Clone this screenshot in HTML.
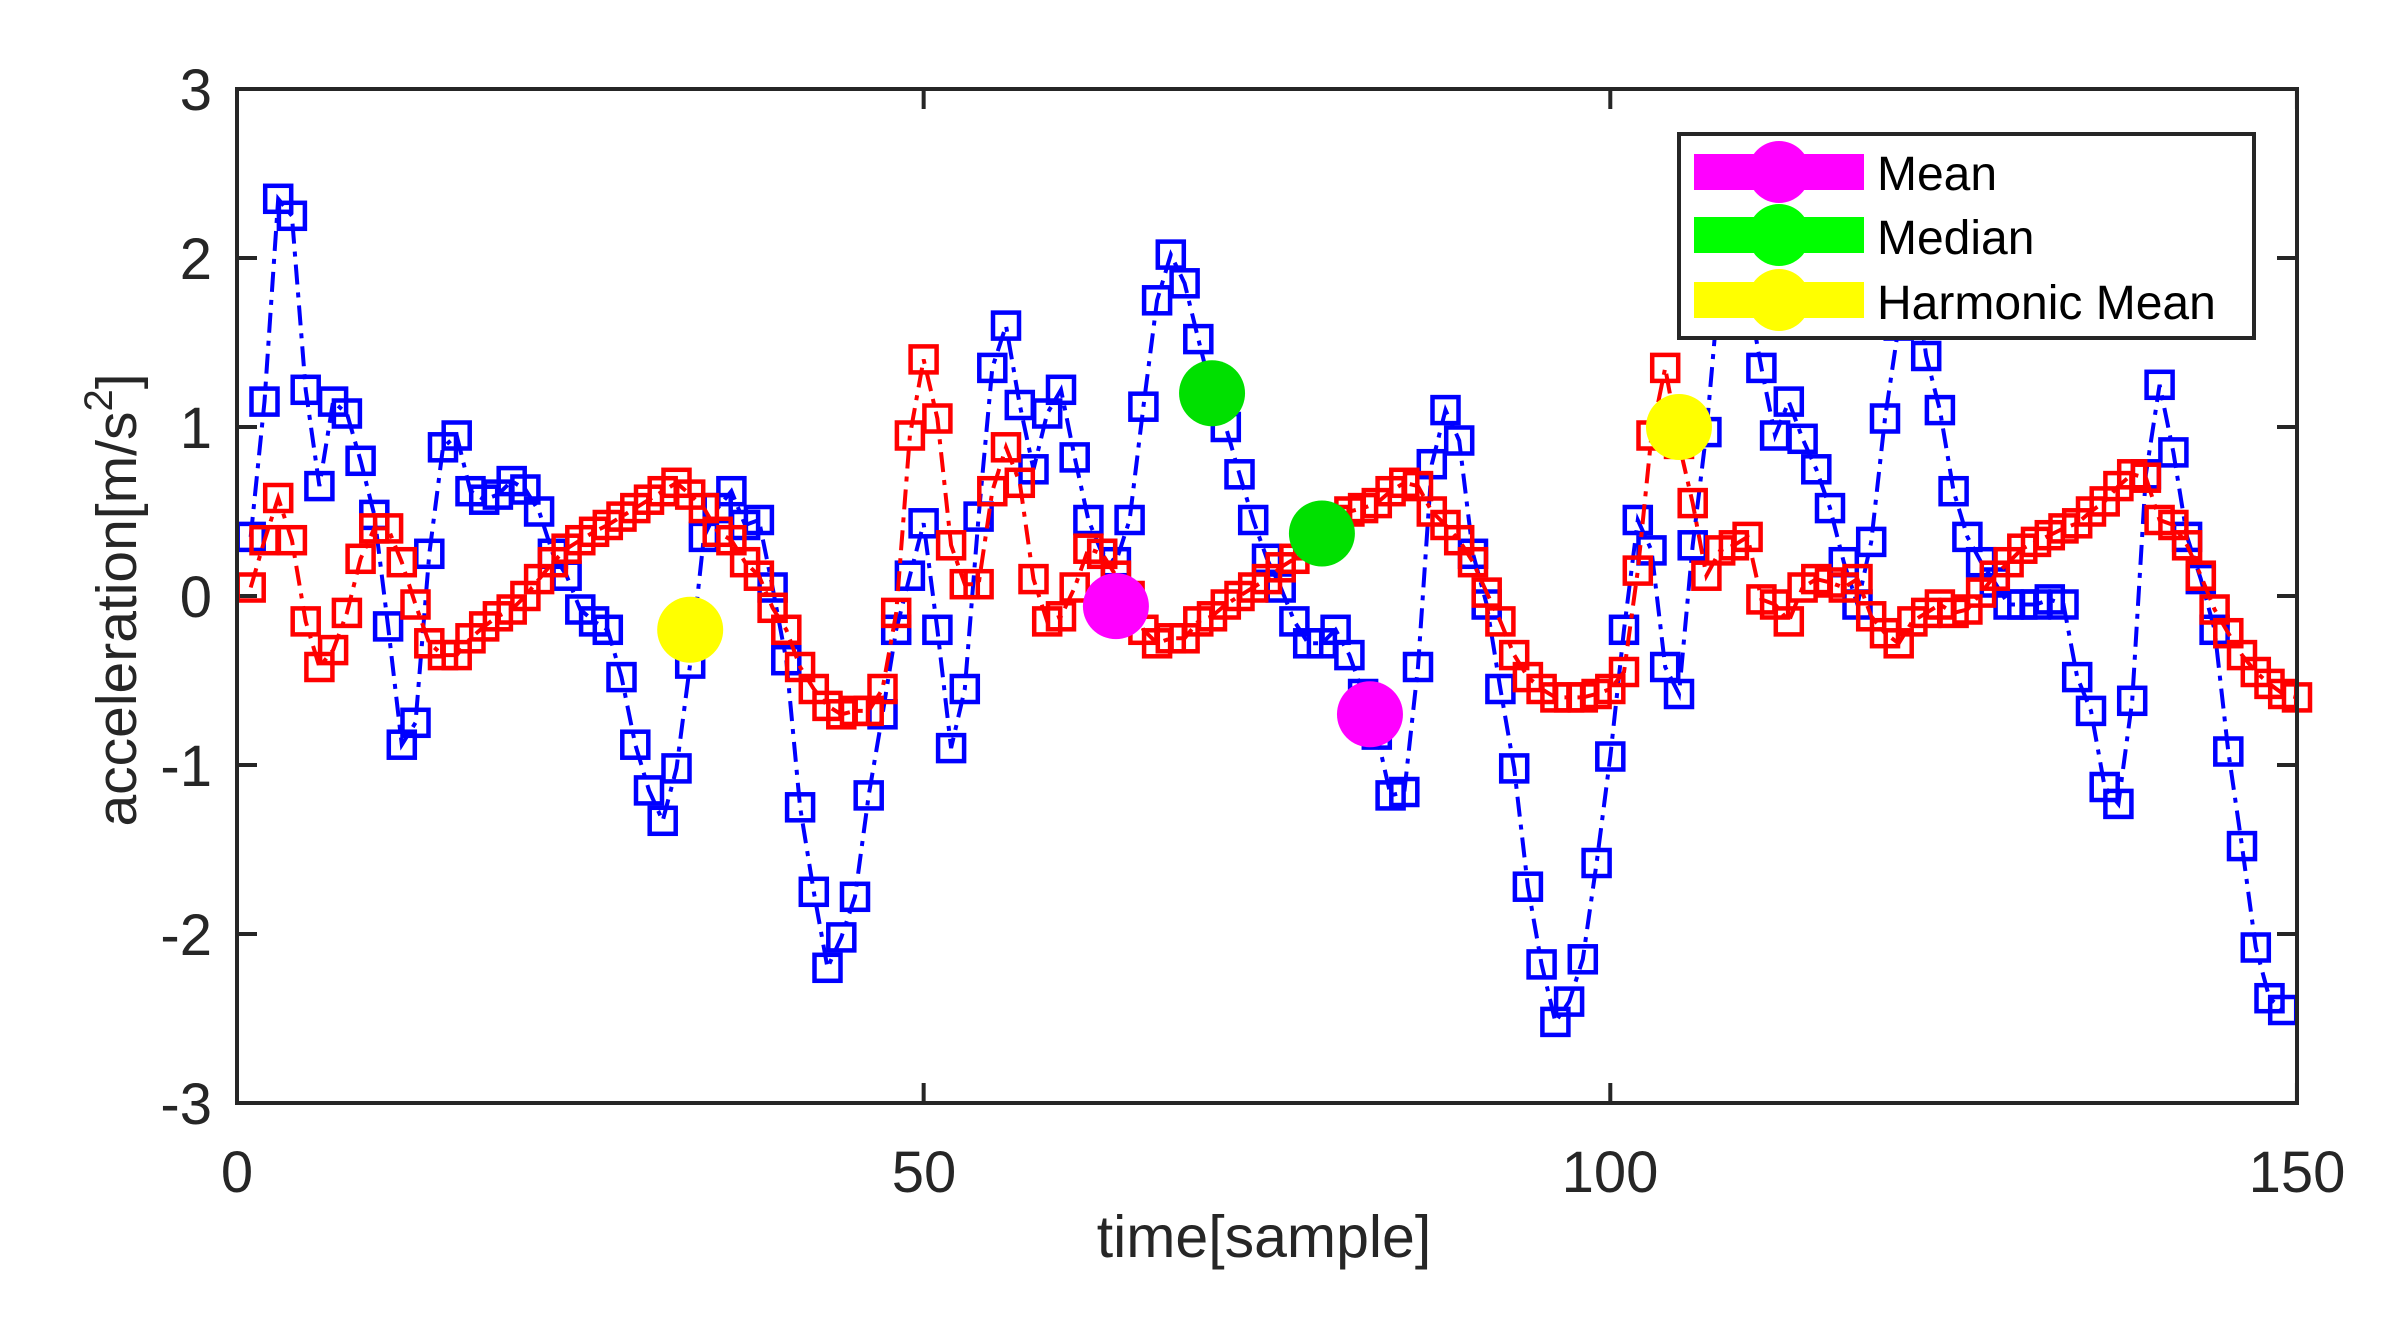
<!DOCTYPE html>
<html><head><meta charset="utf-8"><style>
html,body{margin:0;padding:0;background:#fff;}
svg{display:block;}
text{font-family:"Liberation Sans",Arial,sans-serif;fill:#262626;}
</style></head><body>
<svg id="s" width="2387" height="1323" viewBox="0 0 2387 1323" xmlns="http://www.w3.org/2000/svg">
<rect x="0" y="0" width="2387" height="1323" fill="#fff"/>
<g id="plot"></g>
<g id="axes" stroke="#262626" stroke-width="4" fill="none">
<rect x="237" y="89" width="2060" height="1014"/>
</g>
<g font-size="58" text-anchor="end">
<text x="212" y="110">3</text>
<text x="212" y="279">2</text>
<text x="212" y="448">1</text>
<text x="212" y="617">0</text>
<text x="212" y="786">-1</text>
<text x="212" y="955">-2</text>
<text x="212" y="1124">-3</text>
</g>
<g font-size="58" text-anchor="middle">
<text x="237" y="1192">0</text>
<text x="924" y="1192">50</text>
<text x="1610" y="1192">100</text>
<text x="2297" y="1192">150</text>
<text x="1264" y="1257" font-size="59">time[sample]</text>
</g>
<text font-size="57" text-anchor="middle" transform="translate(136,600) rotate(-90)">acceleration[m/s<tspan font-size="40" dy="-24">2</tspan><tspan dy="24">]</tspan></text>
<g>
<rect x="1679" y="134" width="575" height="204" fill="#fff" stroke="#262626" stroke-width="4"/>
<rect x="1694" y="154" width="170" height="36" fill="#ff00ff"/><circle cx="1779" cy="172" r="31" fill="#ff00ff"/>
<rect x="1694" y="217" width="170" height="36" fill="#00ff00"/><circle cx="1779" cy="235" r="31" fill="#00ff00"/>
<rect x="1694" y="282" width="170" height="36" fill="#ffff00"/><circle cx="1779" cy="300" r="31" fill="#ffff00"/>
<text x="1877" y="190" font-size="48" style="fill:#000">Mean</text>
<text x="1877" y="254" font-size="48" style="fill:#000">Median</text>
<text x="1877" y="319" font-size="48" style="fill:#000">Harmonic Mean</text>
</g>
</svg>
<script>
var blue=[0.35,1.15,2.35,2.25,1.22,0.65,1.15,1.08,0.8,0.48,-0.18,-0.88,-0.75,0.25,0.88,0.95,0.62,0.57,0.6,0.68,0.63,0.5,0.25,0.12,-0.08,-0.15,-0.2,-0.48,-0.88,-1.15,-1.33,-1.02,-0.4,0.35,0.52,0.62,0.42,0.45,0.05,-0.38,-1.25,-1.75,-2.2,-2.02,-1.78,-1.18,-0.7,-0.2,0.12,0.43,-0.2,-0.9,-0.55,0.47,1.35,1.6,1.13,0.75,1.08,1.22,0.82,0.45,0.25,0.2,0.45,1.12,1.75,2.02,1.85,1.52,1.2,1.0,0.72,0.45,0.22,0.05,-0.15,-0.28,-0.28,-0.2,-0.35,-0.58,-0.82,-1.18,-1.16,-0.42,0.78,1.1,0.92,0.25,-0.05,-0.55,-1.02,-1.72,-2.18,-2.52,-2.4,-2.15,-1.58,-0.95,-0.2,0.45,0.27,-0.42,-0.58,0.3,0.97,1.9,2.3,1.8,1.35,0.95,1.15,0.93,0.75,0.52,0.2,-0.05,0.32,1.05,1.6,2.0,1.42,1.1,0.62,0.35,0.2,0.08,-0.05,-0.05,-0.05,-0.02,-0.05,-0.48,-0.68,-1.13,-1.23,-0.62,0.72,1.25,0.85,0.35,0.1,-0.2,-0.92,-1.48,-2.08,-2.38,-2.45];
var red=[0.05,0.33,0.58,0.33,-0.15,-0.42,-0.32,-0.1,0.22,0.4,0.4,0.2,-0.05,-0.28,-0.35,-0.35,-0.25,-0.18,-0.12,-0.08,0.0,0.1,0.2,0.28,0.33,0.38,0.42,0.47,0.52,0.57,0.62,0.67,0.6,0.52,0.38,0.33,0.2,0.12,-0.07,-0.2,-0.42,-0.55,-0.65,-0.7,-0.68,-0.68,-0.55,-0.1,0.95,1.4,1.05,0.3,0.07,0.07,0.62,0.88,0.67,0.1,-0.15,-0.12,0.05,0.28,0.25,0.12,0.0,-0.2,-0.28,-0.25,-0.25,-0.15,-0.12,-0.05,0.0,0.05,0.1,0.17,0.22,0.3,0.38,0.45,0.5,0.52,0.55,0.62,0.67,0.65,0.5,0.42,0.33,0.2,0.02,-0.15,-0.35,-0.48,-0.55,-0.6,-0.6,-0.6,-0.58,-0.55,-0.45,0.15,0.95,1.35,0.9,0.55,0.12,0.27,0.3,0.35,-0.02,-0.05,-0.15,0.05,0.1,0.08,0.05,0.1,-0.12,-0.22,-0.28,-0.15,-0.1,-0.05,-0.1,-0.08,0.02,0.12,0.2,0.28,0.32,0.36,0.4,0.43,0.5,0.56,0.65,0.72,0.7,0.45,0.42,0.3,0.12,-0.08,-0.22,-0.35,-0.45,-0.52,-0.58,-0.6];
function X(t){return 237+t*13.733;}function Y(v){return 596-v*169;}
var g=document.getElementById('plot'),h='';
var tk='';
[0,50,100,150].forEach(function(t){var x=X(t);tk+='<line x1="'+x+'" y1="1103" x2="'+x+'" y2="1083"/><line x1="'+x+'" y1="89" x2="'+x+'" y2="109"/>';});
[-3,-2,-1,0,1,2,3].forEach(function(v){var y=Y(v);tk+='<line x1="237" y1="'+y+'" x2="257" y2="'+y+'"/><line x1="2297" y1="'+y+'" x2="2277" y2="'+y+'"/>';});
h+='<g stroke="#262626" stroke-width="4">'+tk+'</g>';
function series(d,c){var p=d.map(function(v,i){return X(i+1).toFixed(1)+','+Y(v).toFixed(1);}).join(' ');
var s='<polyline points="'+p+'" fill="none" stroke="'+c+'" stroke-width="4" stroke-dasharray="20,8,5,8"/>';
d.forEach(function(v,i){s+='<rect x="'+(X(i+1)-13).toFixed(1)+'" y="'+(Y(v)-13).toFixed(1)+'" width="26" height="26" fill="none" stroke="'+c+'" stroke-width="4.5"/>';});return s;}
h+=series(blue,'#0000ff');h+=series(red,'#ff0000');
[[33,-0.2,'#ffff00'],[64,-0.06,'#ff00ff'],[71,1.2,'#00e000'],[79,0.37,'#00e000'],[82.5,-0.7,'#ff00ff'],[105,1.0,'#ffff00']].forEach(function(d){h+='<ellipse cx="'+X(d[0])+'" cy="'+Y(d[1])+'" rx="33" ry="33" fill="'+d[2]+'"/>';});
g.innerHTML=h;
</script>
</body></html>
